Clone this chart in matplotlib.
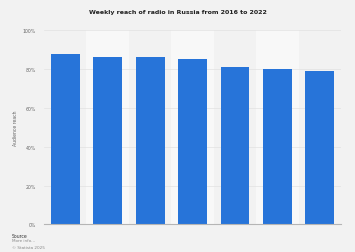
import numpy as np
import matplotlib
matplotlib.use("Agg")
import matplotlib.pyplot as plt

years = ["2016", "2017", "2018", "2019", "2020", "2021", "2022"]
reach = [87.7, 86.0, 86.0, 84.9, 80.8, 79.8, 78.9]
yticks = [0, 20, 40, 60, 80, 100]

bg = "#f2f2f2"
fig = plt.figure(figsize=(3.55, 2.53), dpi=100, facecolor=bg)
ax = fig.add_axes([0.124, 0.109, 0.837, 0.768], facecolor=bg)

x = np.arange(len(years))
# alternating column bands
for i in x:
    if i % 2 == 1:
        ax.axvspan(i - 0.5, i + 0.5, color="#f8f8f8", zorder=0, lw=0)

for t in yticks[1:]:
    ax.axhline(t, color="#e2e2e2", lw=0.5, zorder=1)

ax.bar(x, reach, width=0.68, color="#2774d9", zorder=2)

ax.set_xlim(-0.5, len(years) - 0.5)
ax.set_ylim(0, 100)
ax.set_yticks(yticks)
ax.set_yticklabels([f"{t}%" for t in yticks], fontsize=3.3, color="#666666")
ax.set_xticks([])
ax.tick_params(axis="y", length=0, pad=6)
for s in ["top", "right", "left"]:
    ax.spines[s].set_visible(False)
ax.spines["bottom"].set_color("#b5b5b5")
ax.spines["bottom"].set_linewidth(0.8)
ax.set_ylabel("Audience reach", fontsize=3.3, color="#666666", labelpad=3)

fig.text(0.5, 0.95, "Weekly reach of radio in Russia from 2016 to 2022",
         ha="center", va="center", fontsize=4.5, fontweight="bold", color="#222222")
fig.text(0.034, 0.067, "Source", fontsize=3.3, color="#333333", va="center")
fig.text(0.034, 0.049, "More info\u2026", fontsize=3.0, color="#888888", va="center")
fig.text(0.034, 0.021, "\u00a9 Statista 2025", fontsize=3.0, color="#888888", va="center")

fig.savefig("out.png", dpi=100, facecolor=bg)
